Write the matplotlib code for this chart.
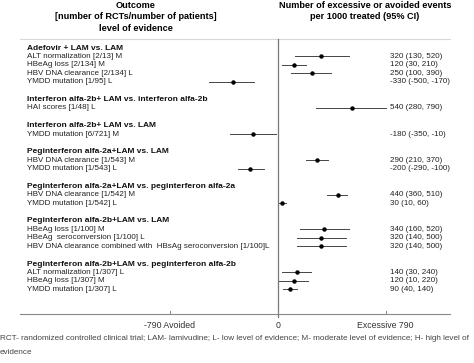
import matplotlib
matplotlib.use("Agg")
import matplotlib.pyplot as plt
from matplotlib.transforms import blended_transform_factory

plt.rcParams["font.family"] = ["Liberation Sans", "DejaVu Sans"]

# ---- data ----
groups = [
    "Adefovir + LAM vs. LAM",
    "Interferon alfa-2b+ LAM vs. interferon alfa-2b",
    "Interferon alfa-2b+ LAM vs. LAM",
    "Peginterferon alfa-2a+LAM vs. LAM",
    "Peginterferon alfa-2a+LAM vs. peginterferon alfa-2a",
    "Peginterferon alfa-2b+LAM vs. LAM",
    "Peginterferon alfa-2b+LAM vs. peginterferon alfa-2b",
]
outcomes = [
    ["ALT normalization [2/13] M", "HBeAg loss [2/134] M",
     "HBV DNA clearance [2/134] L", "YMDD mutation [1/95] L"],
    ["HAI scores [1/48] L"],
    ["YMDD mutation [6/721] M"],
    ["HBV DNA clearance [1/543] M", "YMDD mutation [1/543] L"],
    ["HBV DNA clearance [1/542] M", "YMDD mutation [1/542] L"],
    ["HBeAg loss [1/100] M", "HBeAg  seroconversion [1/100] L",
     "HBV DNA clearance combined with  HBsAg seroconversion [1/100]L"],
    ["ALT normalization [1/307] L", "HBeAg loss [1/307] M",
     "YMDD mutation [1/307] L"],
]
estimates = [[320, 120, 250, -330], [540], [-180], [290, -200], [440, 30],
             [340, 320, 320], [140, 120, 90]]
lower = [[130, 30, 100, -500], [280], [-350], [210, -290], [360, 10],
         [160, 140, 140], [30, 10, 40]]
upper = [[520, 210, 390, -170], [790], [-10], [370, -100], [510, 60],
         [520, 500, 500], [240, 220, 140]]
tick_values = [-790, 0, 790]
tick_labels = ["-790 Avoided", "0", "Excessive 790"]

W, H, DPI = 474, 363, 100
fig = plt.figure(figsize=(W / DPI, H / DPI), dpi=DPI)
ax = fig.add_axes([0, 0, 1, 1])
ax.axis("off")

# x: pixel = 277.7 + v*108/790
scale = 108 / 790.0
x0 = 277.7
ax.set_xlim(-x0 / scale, (W - x0) / scale)
ax.set_ylim(H, 0)  # y in pixel-row units

fs = 5.8
bfs = 6.0
tl = blended_transform_factory(fig.transFigure, ax.transData)
gray = "#444444"

# layout of rows
y = 48.0
step = 8.45
gap = 17.7
for gi, g in enumerate(groups):
    ax.text(27 / W, y, g, transform=tl, fontsize=bfs, fontweight="bold",
            va="center", ha="left", color="#111111")
    y += step
    for oi, o in enumerate(outcomes[gi]):
        ax.text(27 / W, y, o, transform=tl, fontsize=fs, va="center",
                ha="left", color="#222222")
        ax.plot([lower[gi][oi], upper[gi][oi]], [y, y], color=gray, lw=0.7)
        ax.plot(estimates[gi][oi], y, "o", color="black", ms=2.2)
        e, lo, hi = estimates[gi][oi], lower[gi][oi], upper[gi][oi]
        ax.text(390 / W, y, f"{e} ({lo}, {hi})", transform=tl, fontsize=fs,
                va="center", ha="left", color="#222222")
        y += step
    y += gap - step

# headers
hfs = 6.6
ax.text(136 / W, 5, "Outcome", transform=tl, fontsize=hfs,
        fontweight="bold", ha="center", va="center")
ax.text(136 / W, 16.5, "[number of RCTs/number of patients]", transform=tl,
        fontsize=hfs, fontweight="bold", ha="center", va="center")
ax.text(136 / W, 28.5, "level of evidence", transform=tl, fontsize=hfs,
        fontweight="bold", ha="center", va="center")
ax.text(365 / W, 5, "Number of excessive or avoided events", transform=tl,
        fontsize=hfs, fontweight="bold", ha="center", va="center")
ax.text(365 / W, 16.5, "per 1000 treated (95% CI)", transform=tl,
        fontsize=hfs, fontweight="bold", ha="center", va="center")

# separator and axis lines
xl = (20 - x0) / scale
xr = (450 - x0) / scale
ax.plot([xl, xr], [38.5, 38.5], color="#d8d8d8", lw=0.8)
ax.plot([xl, xr], [314, 314], color="#888888", lw=0.8)
ax.plot([0, 0], [38.5, 317], color="#777777", lw=0.9)
for tv, tlab in zip(tick_values, tick_labels):
    ax.plot([tv, tv], [311, 314], color="#888888", lw=0.7)
    ax.text(tv, 325, tlab, fontsize=6.3, ha="center", va="center",
            color="#333333")

# footnote
ax.text(0, 339, "RCT- randomized controlled clinical trial; LAM- lamivudine; "
        "L- low level of evidence; M- moderate level of evidence; "
        "H- high level of", transform=tl, fontsize=5.85, ha="left",
        va="center", color="#444444")
ax.text(0, 352, "evidence", transform=tl, fontsize=5.85, ha="left",
        va="center", color="#444444")

fig.savefig("out.png", dpi=DPI)
